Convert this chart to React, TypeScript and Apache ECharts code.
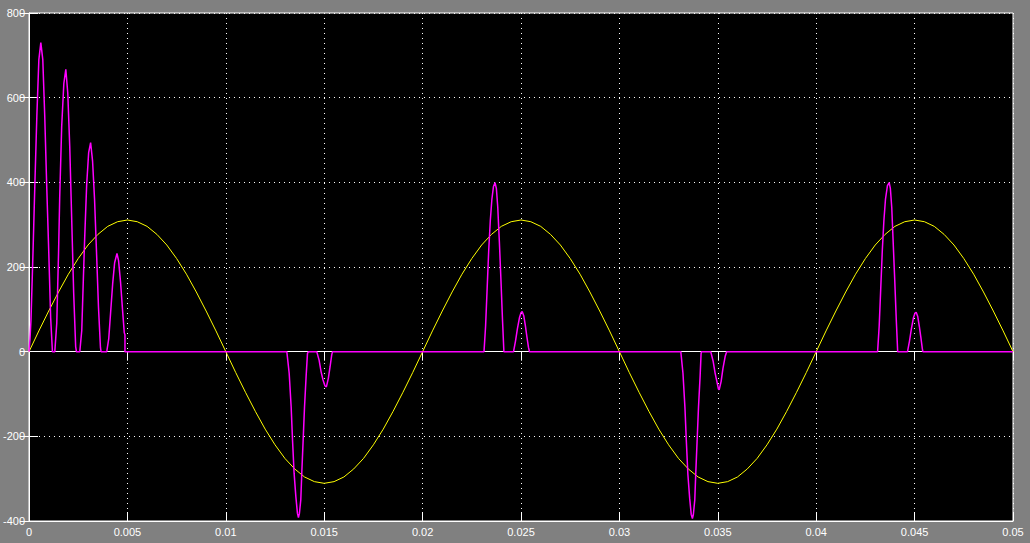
import React, { useEffect, useRef } from "react";
import * as echarts from "echarts";

// x axis in milliseconds, labels shown in seconds
const X_TICK_LABELS = ["0", "0.005", "0.01", "0.015", "0.02", "0.025", "0.03", "0.035", "0.04", "0.045", "0.05"];
const Y_TICK_VALUES = [-400, -200, 0, 200, 400, 600, 800];

// Yellow trace: sampled every 0.5 ms from 0 to 50 ms
const YELLOW_STEP_MS = 0.5;
const yellowValues = [
  0, 49, 96, 141, 183, 220, 252, 277, 296, 307, 311, 307, 296, 277, 252, 220, 183, 141, 96, 49,
  0, -49, -96, -141, -183, -220, -252, -277, -296, -307, -311, -307, -296, -277, -252, -220, -183, -141, -96, -49,
  0, 49, 96, 141, 183, 220, 252, 277, 296, 307, 311, 307, 296, 277, 252, 220, 183, 141, 96, 49,
  0, -49, -96, -141, -183, -220, -252, -277, -296, -307, -311, -307, -296, -277, -252, -220, -183, -141, -96, -49,
  0, 49, 96, 141, 183, 220, 252, 277, 296, 307, 311, 307, 296, 277, 252, 220, 183, 141, 96, 49,
  0,
];

// Magenta trace: pulses as [ms, value]
const pulse1 = [[0, 0], [0.05, 30], [0.1, 75], [0.2, 230], [0.3, 400], [0.4, 560], [0.5, 690], [0.6, 730], [0.7, 690], [0.8, 555], [0.9, 390], [1.0, 240], [1.1, 80], [1.19, 0]];
const pulse2 = [[1.31, 0], [1.41, 67], [1.5, 232], [1.56, 366], [1.66, 532], [1.77, 634], [1.87, 667], [1.97, 610], [2.07, 484], [2.17, 311], [2.27, 138], [2.37, 12], [2.41, 0]];
const pulse3 = [[2.58, 0], [2.68, 50], [2.76, 170], [2.83, 270], [2.93, 395], [3.03, 470], [3.13, 494], [3.23, 450], [3.33, 360], [3.43, 235], [3.53, 105], [3.63, 10], [3.66, 0]];
const pulse4 = [[3.95, 0], [4.05, 30], [4.15, 95], [4.25, 160], [4.35, 210], [4.47, 232], [4.55, 215], [4.65, 165], [4.75, 100], [4.84, 45], [4.875, 40], [4.876, 0]];
const negA = [[13.1, 0], [13.22, -51], [13.32, -130], [13.39, -209], [13.47, -287], [13.56, -343], [13.64, -382], [13.69, -392], [13.74, -382], [13.81, -350], [13.86, -287], [13.93, -209], [14.0, -130], [14.08, -59], [14.15, -4], [14.2, 0]];
const negSmallA = [[14.62, 0], [14.74, -20], [14.84, -47], [14.94, -67], [15.04, -81], [15.11, -83], [15.21, -63], [15.3, -35], [15.38, -8], [15.42, 0]];
const posA = [[23.12, 0], [23.2, 60], [23.28, 150], [23.36, 240], [23.44, 310], [23.52, 360], [23.6, 390], [23.68, 399], [23.75, 385], [23.82, 340], [23.9, 260], [23.98, 170], [24.06, 75], [24.13, 0]];
const posSmallA = [[24.62, 0], [24.72, 25], [24.82, 55], [24.92, 80], [25.0, 92], [25.06, 95], [25.14, 85], [25.22, 62], [25.3, 35], [25.38, 10], [25.43, 0]];
const negB = [[33.12, 0], [33.23, -51], [33.33, -132], [33.4, -210], [33.48, -290], [33.57, -346], [33.65, -385], [33.71, -394], [33.76, -384], [33.83, -350], [33.88, -287], [33.95, -209], [34.02, -130], [34.1, -59], [34.15, -5], [34.17, 0]];
const negSmallB = [[34.64, 0], [34.76, -22], [34.86, -50], [34.96, -72], [35.03, -88], [35.07, -90], [35.17, -70], [35.26, -40], [35.38, -10], [35.45, 0]];
const posB = [[43.12, 0], [43.2, 60], [43.28, 150], [43.36, 240], [43.44, 310], [43.52, 360], [43.62, 392], [43.71, 399], [43.77, 385], [43.84, 340], [43.91, 260], [43.99, 170], [44.07, 75], [44.14, 0]];
const posSmallB = [[44.64, 0], [44.74, 25], [44.84, 55], [44.94, 80], [45.02, 91], [45.08, 93], [45.16, 83], [45.24, 60], [45.32, 33], [45.39, 8], [45.42, 0]];
const magentaEnd = [[50, 0]];

const FONT = "'Liberation Sans', Arial, sans-serif";

export default function App() {
  const ref = useRef<HTMLDivElement>(null);

  useEffect(() => {
    if (!ref.current) return;
    const chart = echarts.init(ref.current, undefined, { renderer: "svg" });

    const yellowData = yellowValues.map((v, i) => [i * YELLOW_STEP_MS, v]);
    const magentaData = [
      ...pulse1, ...pulse2, ...pulse3, ...pulse4,
      ...negA, ...negSmallA, ...posA, ...posSmallA,
      ...negB, ...negSmallB, ...posB, ...posSmallB, ...magentaEnd,
    ];

    const xLabel = (v: number) => X_TICK_LABELS[Math.round(v / 5)] ?? "";
    const tickStyle = { show: true, inside: true, length: 9, lineStyle: { color: "#ffffff", width: 1 } };

    chart.setOption({
      animation: false,
      backgroundColor: "#808080",
      grid: {
        left: 26,
        right: 17,
        top: 13,
        bottom: 22,
        show: true,
        backgroundColor: "#000000",
        borderColor: "#ffffff",
        borderWidth: 1,
      },
      xAxis: [
        {
          type: "value",
          min: 0,
          max: 50,
          interval: 5,
          axisLine: { show: true, onZero: false, lineStyle: { color: "#ffffff", width: 1 } },
          axisTick: tickStyle,
          axisLabel: { color: "#ffffff", fontFamily: FONT, fontSize: 11, margin: 5, formatter: xLabel, showMinLabel: true, showMaxLabel: true },
          splitLine: { show: true, lineStyle: { color: "#ffffff", width: 1, type: [1, 4] } },
        },
        {
          type: "value",
          position: "top",
          min: 0,
          max: 50,
          interval: 5,
          axisLine: { show: true, lineStyle: { color: "#ffffff", width: 1 } },
          axisTick: tickStyle,
          axisLabel: { show: false },
          splitLine: { show: false },
        },
      ],
      yAxis: [
        {
          type: "value",
          min: Y_TICK_VALUES[0],
          max: Y_TICK_VALUES[Y_TICK_VALUES.length - 1],
          interval: 200,
          axisLine: { show: true, onZero: false, lineStyle: { color: "#ffffff", width: 1 } },
          axisTick: tickStyle,
          axisLabel: { color: "#ffffff", fontFamily: FONT, fontSize: 11, margin: 4, showMinLabel: true, showMaxLabel: true },
          splitLine: { show: true, lineStyle: { color: "#ffffff", width: 1, type: [1, 4] } },
        },
        {
          type: "value",
          position: "right",
          min: Y_TICK_VALUES[0],
          max: Y_TICK_VALUES[Y_TICK_VALUES.length - 1],
          interval: 200,
          axisLine: { show: true, lineStyle: { color: "#ffffff", width: 1 } },
          axisTick: tickStyle,
          axisLabel: { show: false },
          splitLine: { show: false },
        },
      ],
      series: [
        {
          type: "line",
          name: "voltage",
          data: yellowData,
          showSymbol: false,
          symbol: "none",
          lineStyle: { color: "#ffff00", width: 1 },
          z: 2,
        },
        {
          type: "line",
          name: "current",
          data: magentaData,
          showSymbol: false,
          symbol: "none",
          lineStyle: { color: "#ff00ff", width: 1.5 },
          z: 3,
        },
      ],
    });

    return () => chart.dispose();
  }, []);

  return (
    <div
      ref={ref}
      style={{ position: "fixed", left: 0, top: 0, width: 1030, height: 543 }}
    />
  );
}
